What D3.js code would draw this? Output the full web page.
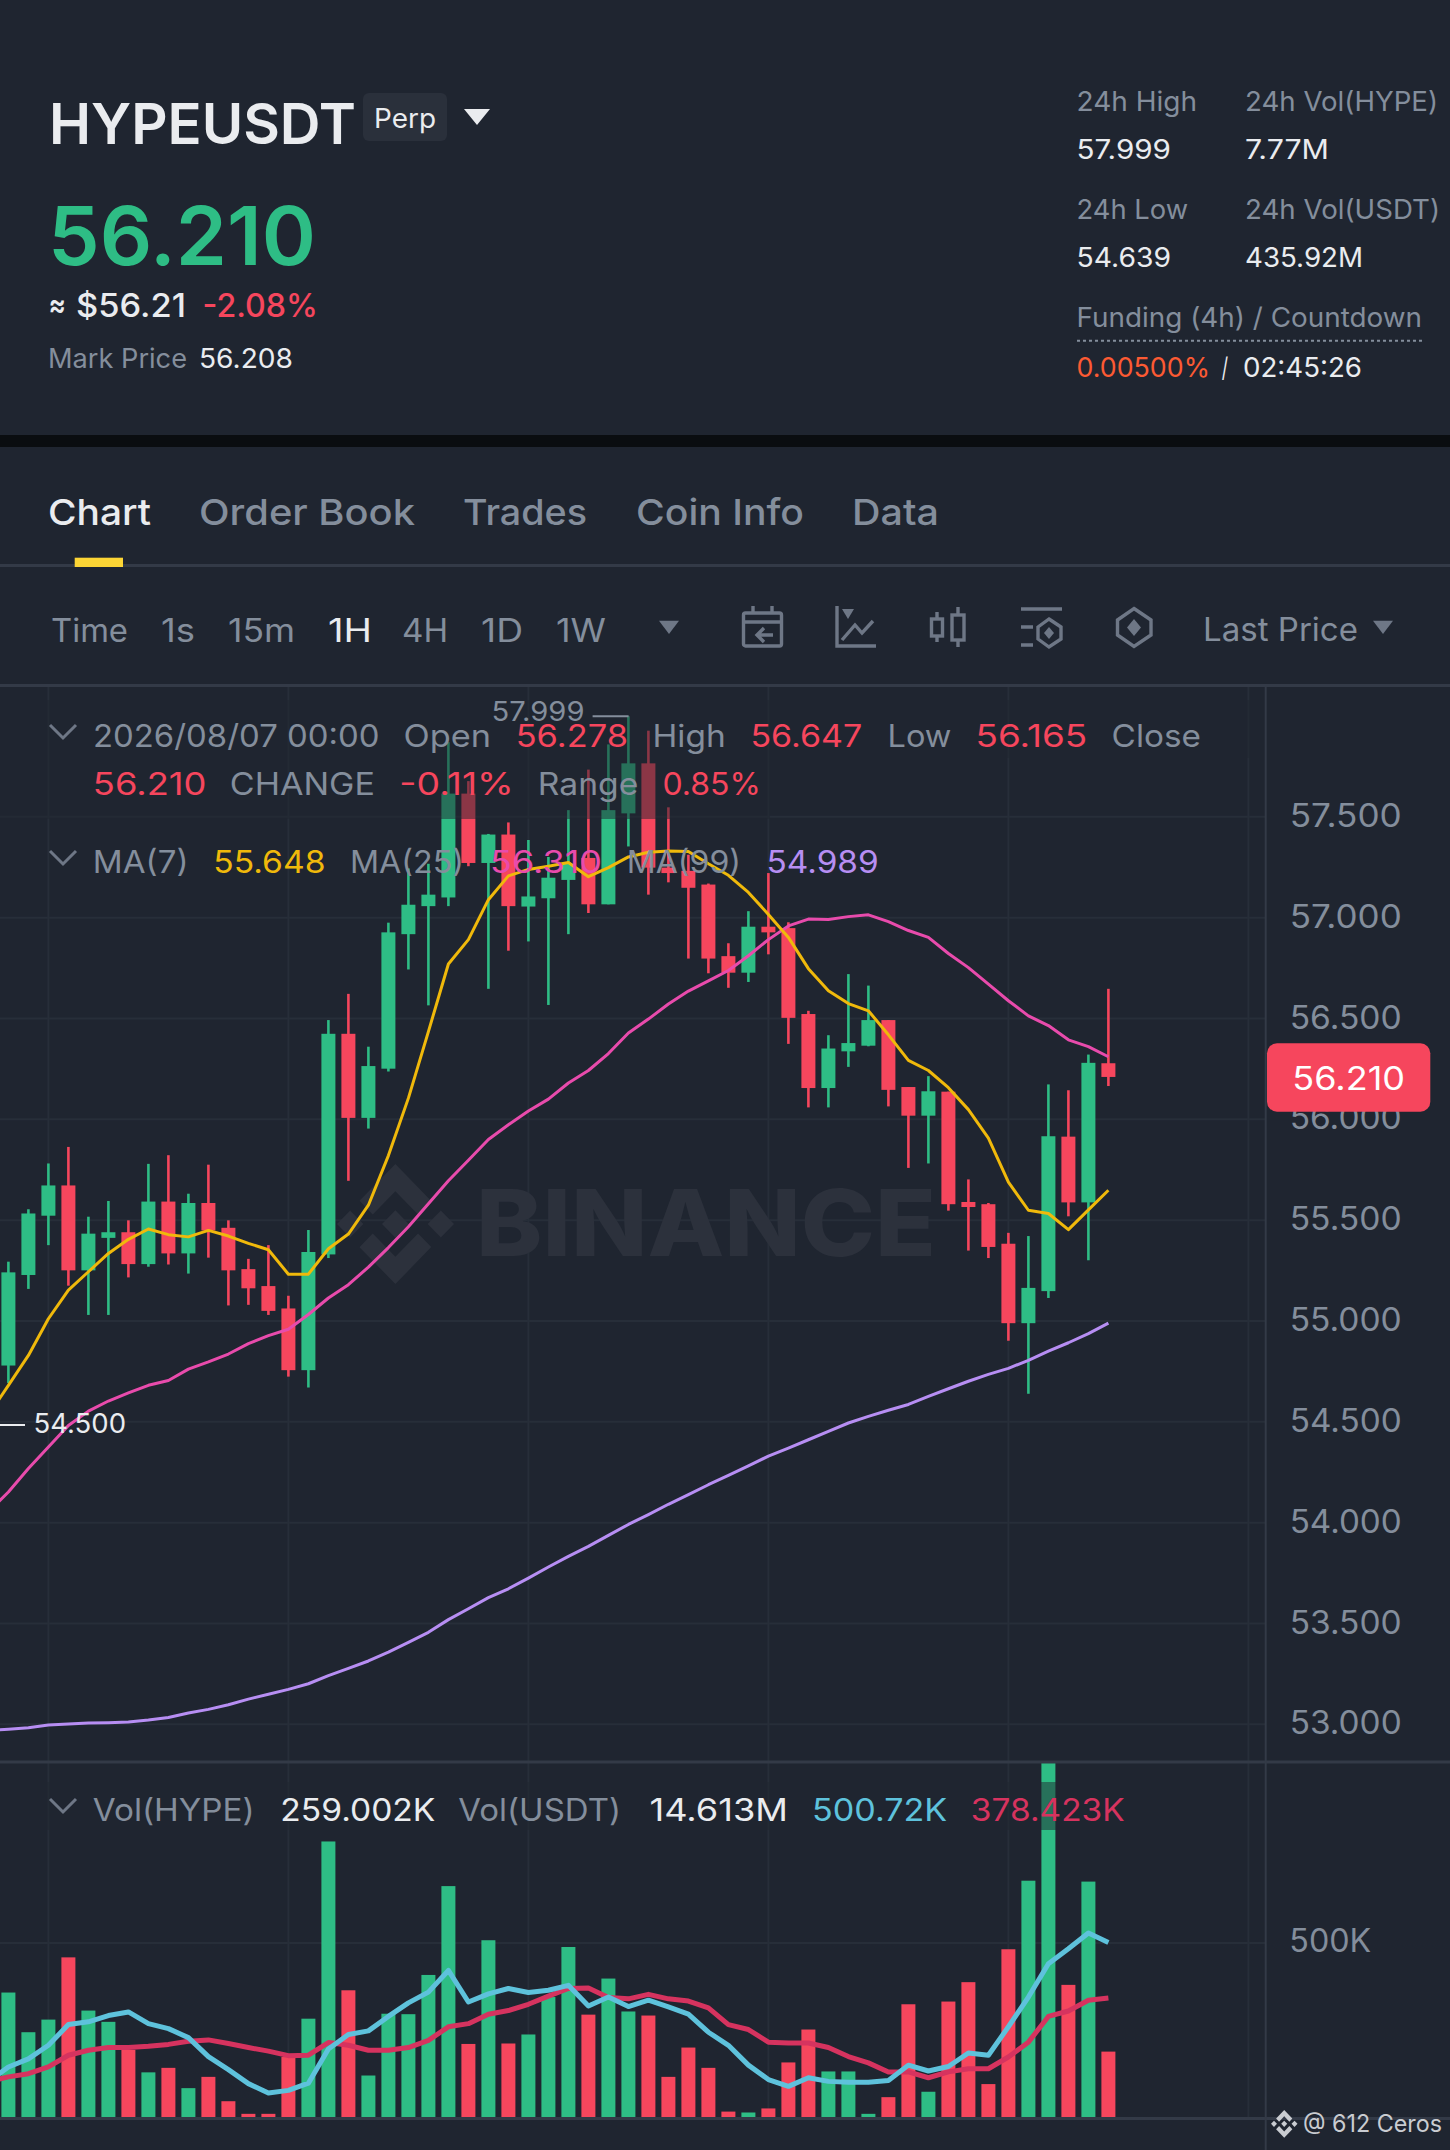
<!DOCTYPE html>
<html lang="en">
<head>
<meta charset="UTF-8">
<title>HYPEUSDT Perp 1H</title>
<script src="https://d3js.org/d3.v7.min.js"></script>
<style>
    html, body { margin: 0; padding: 0; background: #1f2530; }
    svg { display: block; font-family: Inter, Lato, sans-serif; }
    .axis path, .axis line { display: none; }
</style>
</head>
<body>
<div id="chart"></div>
<script>
// candles, one per hour, left to right
const opens = [54.779,55.228,55.522,55.672,55.251,55.412,55.440,55.282,55.592,55.335,55.585,55.462,55.257,55.173,55.062,54.756,55.330,56.424,56.007,56.251,56.918,57.057,57.100,57.615,57.271,57.412,57.055,57.096,57.187,57.296,57.066,57.517,57.765,57.248,57.232,57.164,56.809,56.727,56.955,56.948,56.522,56.155,56.337,56.365,56.492,56.160,56.018,56.137,55.590,55.579,55.383,54.989,55.148,55.914,55.588,56.278];
const highs = [55.294,55.554,55.781,55.863,55.517,55.595,55.499,55.779,55.822,55.631,55.775,55.499,55.308,55.376,55.125,55.451,56.492,56.622,56.360,56.975,57.244,57.267,57.870,57.677,57.415,57.472,57.385,57.301,57.533,57.734,57.859,57.999,57.927,57.547,57.312,57.169,56.873,57.032,57.221,56.977,56.538,56.417,56.720,56.663,56.492,56.160,56.214,56.137,55.702,55.585,55.437,55.421,56.173,56.144,56.321,56.647];
const lows = [54.692,55.159,55.376,55.175,55.030,55.030,55.216,55.269,55.280,55.235,55.314,55.077,55.080,55.030,54.724,54.670,55.312,55.695,55.954,56.237,56.743,56.565,57.057,57.255,56.647,56.836,56.882,56.567,56.918,57.023,57.066,57.353,57.114,57.175,56.797,56.724,56.652,56.681,56.818,56.374,56.059,56.059,56.260,56.362,56.064,55.759,55.781,55.547,55.349,55.312,54.902,54.639,55.114,55.519,55.301,56.165];
const closes = [55.241,55.533,55.672,55.251,55.433,55.440,55.282,55.592,55.335,55.585,55.449,55.251,55.162,55.050,54.756,55.342,56.424,56.007,56.264,56.927,57.064,57.114,57.615,57.271,57.412,57.057,57.105,57.198,57.267,57.066,57.533,57.765,57.248,57.221,57.148,56.797,56.727,56.955,56.927,56.503,56.155,56.351,56.378,56.492,56.146,56.018,56.139,55.579,55.565,55.367,54.989,55.164,55.916,55.588,56.280,56.210];
const volumes = [390,302,330,468,350,325,263,213,223,178,203,149,121,121,247,332,725,395,206,343,342,429,626,276,506,277,297,380,491,341,421,348,339,203,268,223,126,124,133,235,308,215,215,121,158,364,170,370,413,187,486,638,905,407,636,259];

// moving averages start one hour before the first candle
const ma7 = [54.533,54.681,54.829,55.011,55.153,55.244,55.335,55.405,55.456,55.428,55.417,55.449,55.421,55.385,55.353,55.232,55.232,55.358,55.431,55.574,55.820,56.105,56.435,56.770,56.891,57.089,57.207,57.239,57.255,57.273,57.203,57.248,57.301,57.324,57.330,57.328,57.267,57.210,57.125,57.016,56.902,56.747,56.638,56.574,56.538,56.419,56.292,56.242,56.157,56.048,55.907,55.688,55.549,55.533,55.453,55.551,55.648];
const ma25 = [54.052,54.152,54.268,54.375,54.482,54.553,54.603,54.643,54.681,54.705,54.761,54.797,54.836,54.888,54.927,54.959,55.032,55.114,55.180,55.267,55.364,55.467,55.581,55.695,55.797,55.900,55.973,56.041,56.100,56.180,56.242,56.326,56.428,56.497,56.572,56.636,56.686,56.738,56.811,56.891,56.959,56.993,56.991,57.005,57.014,56.980,56.936,56.902,56.822,56.752,56.670,56.588,56.513,56.465,56.394,56.360,56.310];
const ma99 = [52.970,52.976,52.983,52.996,53.001,53.006,53.008,53.011,53.021,53.034,53.056,53.074,53.097,53.125,53.149,53.173,53.201,53.241,53.277,53.314,53.358,53.406,53.456,53.519,53.573,53.628,53.672,53.725,53.780,53.833,53.882,53.937,53.991,54.040,54.091,54.139,54.188,54.234,54.281,54.330,54.370,54.411,54.453,54.494,54.527,54.557,54.586,54.626,54.664,54.701,54.735,54.765,54.805,54.851,54.892,54.937,54.989];
const volMa5 = [192,225,243,273,319,325,339,347,321,310,290,248,219,188,167,173,189,265,297,305,337,367,391,439,369,387,399,390,395,406,360,380,359,373,358,342,302,273,229,197,182,201,193,191,191,195,229,216,226,256,251,314,380,454,487,522,501];
const volMa10 = [192,203,210,225,251,262,268,268,271,275,282,285,277,268,260,250,251,279,273,262,262,268,284,314,321,342,350,364,382,399,400,379,376,386,376,371,356,319,308,280,278,278,268,248,234,214,214,201,214,221,221,247,280,337,349,373,378];

const priceTicks = [53, 53.5, 54, 54.5, 55, 55.5, 56, 56.5, 57, 57.5];
const volTicks = [500];
const timeGridIndex = [2, 14, 26, 38, 50, 62];

const tabs = ["Chart", "Order Book", "Trades", "Coin Info", "Data"];
const intervals = ["Time", "1s", "15m", "1H", "4H", "1D", "1W"];

const GREEN = "#2ebd85", RED = "#f6465d", GREY = "#848e9c", WHITE = "#eaecef", BG = "#1f2530";
const GRID = "#272e39", RULE = "#333a47", ICON = "#6e7786";
const C_MA7 = "#f0b90b", C_MA25 = "#e84bac", C_MA99 = "#b78ef3", C_VMA5 = "#5ec2dc", C_VMA10 = "#d6335f";

const binancePaths = [
    "M38.73 53.2L63.3 28.63L87.89 53.22L102.19 38.92L63.3 0L24.43 38.9Z",
    "M0 63.31L14.3 49L28.6 63.3L14.3 77.6Z",
    "M38.73 73.41L63.3 97.98L87.9 73.4L102.2 87.69L63.3 126.6L24.4 87.7Z",
    "M98.28 63.31L112.58 49L126.88 63.3L112.58 77.6Z",
    "M77.83 63.3L63.3 48.76L48.8 63.26L63.3 77.76Z"
];

const svg = d3.select("#chart").append("svg").attr("width", 1450).attr("height", 2150);
svg.append("rect").attr("width", 1450).attr("height", 2150).attr("fill", BG);

const x = d3.scaleLinear().domain([0, 55]).range([8.4, 1108.4]);
const yPrice = d3.scaleLinear().domain([53, 57.5]).range([1724.3, 816.8]);
const yVol = d3.scaleLinear().domain([114, 899]).range([2117, 1763]);

const defs = svg.append("defs");
defs.append("clipPath").attr("id", "price-clip").append("rect").attr("x", 0).attr("y", 687).attr("width", 1265).attr("height", 1074);
defs.append("clipPath").attr("id", "vol-clip").append("rect").attr("x", 0).attr("y", 1763).attr("width", 1265).attr("height", 354);

// text fitted between two x positions, the app font is not installed
function txt(parent, x0, x1, base, s, size, fill, weight) {
    return parent.append("text")
        .attr("x", x0).attr("y", base)
        .attr("textLength", x1 - x0).attr("lengthAdjust", "spacingAndGlyphs")
        .attr("font-size", size).attr("font-weight", weight || 400)
        .attr("fill", fill).text(s);
}

function tri(parent, x0, x1, y0, y1, fill) {
    parent.append("path").attr("fill", fill)
        .attr("d", `M${x0} ${y0}H${x1}L${(x0 + x1) / 2} ${y1}Z`);
}

function chevron(parent, y) {
    parent.append("path").attr("fill", "none").attr("stroke", ICON).attr("stroke-width", 3)
        .attr("d", `M50 ${y}L63 ${y + 13}L76 ${y}`);
}

function logo(parent, px, py, w, h, fill) {
    parent.append("g").attr("transform", `translate(${px},${py}) scale(${w / 126.88},${h / 126.6})`)
        .selectAll("path").data(binancePaths).join("path").attr("d", d => d).attr("fill", fill);
}

// ---- header
const head = svg.append("g");
txt(head, 49, 356, 144, "HYPEUSDT", 56, "#eaecef", 600);
head.append("rect").attr("x", 363).attr("y", 93).attr("width", 84).attr("height", 48).attr("rx", 6).attr("fill", "#2a303b");
txt(head, 374, 436, 128, "Perp", 27, WHITE);
tri(head, 464, 490, 109, 125, WHITE);
txt(head, 48, 316, 265, "56.210", 81, GREEN, 600);
txt(head, 48.6, 66, 315, "≈", 30, WHITE, 600);
txt(head, 76, 186, 317, "$56.21", 32, WHITE, 500);
txt(head, 202.5, 318, 317, "-2.08%", 32, RED, 500);
txt(head, 48, 187, 368, "Mark Price", 27, GREY);
txt(head, 199, 293, 368, "56.208", 27, WHITE);

txt(head, 1076.5, 1197, 111, "24h High", 27, GREY);
txt(head, 1245, 1438, 111, "24h Vol(HYPE)", 27, GREY);
txt(head, 1076.5, 1171, 158.7, "57.999", 27, WHITE);
txt(head, 1245, 1329, 158.7, "7.77M", 27, WHITE);
txt(head, 1076.5, 1188, 218.7, "24h Low", 27, GREY);
txt(head, 1245, 1440, 218.7, "24h Vol(USDT)", 27, GREY);
txt(head, 1076.5, 1171, 266.7, "54.639", 27, WHITE);
txt(head, 1245, 1363, 266.7, "435.92M", 27, WHITE);
txt(head, 1076.5, 1422, 326.7, "Funding (4h) / Countdown", 27, GREY);
head.append("line").attr("x1", 1077).attr("x2", 1422).attr("y1", 340.7).attr("y2", 340.7)
    .attr("stroke", GREY).attr("stroke-width", 2).attr("stroke-dasharray", "3 3");
txt(head, 1076.5, 1210, 377.3, "0.00500%", 27, "#fc5a33");
txt(head, 1221.7, 1228, 377.3, "/", 27, WHITE);
txt(head, 1243, 1362, 377.3, "02:45:26", 27, WHITE);

head.append("rect").attr("x", 0).attr("y", 435).attr("width", 1450).attr("height", 12).attr("fill", "#0a0d10");

// ---- tabs
const tabX = [[48, 151], [199, 415], [463, 587], [636, 804], [852, 939]];
tabs.forEach((t, i) => txt(head, tabX[i][0], tabX[i][1], 525, t, 36, i === 0 ? WHITE : GREY, 500));
head.append("rect").attr("x", 0).attr("y", 564).attr("width", 1450).attr("height", 3).attr("fill", RULE);
head.append("rect").attr("x", 74.7).attr("y", 557.7).attr("width", 48.3).attr("height", 9.3).attr("fill", "#fcd535");

// ---- toolbar
const intervalX = [[51, 128], [161, 195], [228, 295], [328, 372], [402, 448], [481, 523], [556, 606]];
intervals.forEach((t, i) => txt(head, intervalX[i][0], intervalX[i][1], 641.7, t, 32, t === "1H" ? WHITE : GREY));
tri(head, 659, 679, 620.7, 634, ICON);
txt(head, 1203, 1358, 641, "Last Price", 32, GREY);
tri(head, 1373, 1393, 620.7, 634, ICON);
head.append("rect").attr("x", 0).attr("y", 684).attr("width", 1450).attr("height", 3).attr("fill", RULE);

function icon(px, py) {
    return head.append("g").attr("transform", `translate(${px},${py})`)
        .attr("fill", "none").attr("stroke", ICON).attr("stroke-width", 3.4);
}
const cal = icon(742, 606);
cal.append("rect").attr("x", 1.5).attr("y", 7).attr("width", 38).attr("height", 33).attr("rx", 2);
cal.append("path").attr("d", "M1.5 16H39.5M11 0V7M30 0V7M31 29H15M22 22L15 29L22 36");
const lineIcon = icon(835, 606);
lineIcon.append("path").attr("d", "M2 0V40H41M7 34L20 19L27 27L38 15");
lineIcon.append("path").attr("d", "M7 3H19L13 13Z").attr("fill", ICON).attr("stroke", "none");
const candleIcon = icon(930, 607);
candleIcon.append("rect").attr("x", 1.5).attr("y", 12).attr("width", 11).attr("height", 17);
candleIcon.append("rect").attr("x", 22).attr("y", 8).attr("width", 12).attr("height", 25);
candleIcon.append("path").attr("d", "M7 5V12M7 29V35M28 0V8M28 33V40");
const layerIcon = icon(1021, 607);
layerIcon.append("path").attr("d", "M0 2H41M0 20H12M0 38H12M28 12L40 20V32L28 40L17 32V20Z");
layerIcon.append("path").attr("d", "M28 20L33 26L28 32L23 26Z").attr("fill", ICON).attr("stroke", "none");
const hexIcon = icon(1116, 607);
hexIcon.append("path").attr("d", "M18 1.5L35 13V28L18 39.5L1.5 28V13Z");
hexIcon.append("path").attr("d", "M18 12L25 20.5L18 29L11 20.5Z").attr("fill", ICON).attr("stroke", "none");

// ---- grid
const grid = svg.append("g").attr("stroke", GRID).attr("stroke-width", 2);
grid.selectAll(".h").data(priceTicks).join("line").attr("class", "h")
    .attr("x1", 0).attr("x2", 1265).attr("y1", d => yPrice(d)).attr("y2", d => yPrice(d));
grid.selectAll(".hv").data(volTicks).join("line").attr("class", "hv")
    .attr("x1", 0).attr("x2", 1265).attr("y1", d => yVol(d)).attr("y2", d => yVol(d));
grid.selectAll(".v").data(timeGridIndex).join("line").attr("class", "v")
    .attr("x1", d => x(d)).attr("x2", d => x(d)).attr("y1", 687).attr("y2", 2117);

// ---- watermark
logo(svg, 337, 1164, 117, 120, "#2c313c");
txt(svg, 476, 936, 1256, "BINANCE", 92, "#2c313c", 800);

// ---- volume bars
const candles = opens.map((o, i) => ({ i, o, h: highs[i], l: lows[i], c: closes[i], v: volumes[i], up: closes[i] >= o }));

svg.append("g").attr("clip-path", "url(#vol-clip)")
    .selectAll("rect").data(candles).join("rect")
    .attr("x", d => x(d.i) - 7).attr("width", 14)
    .attr("y", d => yVol(d.v)).attr("height", d => yVol.range()[0] - yVol(d.v))
    .attr("fill", d => d.up ? GREEN : RED);

const volLine = d3.line().x((d, i) => x(i - 1)).y(d => yVol(d));
const volLines = svg.append("g").attr("clip-path", "url(#vol-clip)").attr("fill", "none").attr("stroke-width", 5).attr("stroke-linejoin", "round");
volLines.append("path").datum(volMa10).attr("d", volLine).attr("stroke", C_VMA10);
volLines.append("path").datum(volMa5).attr("d", volLine).attr("stroke", C_VMA5);

// ---- candles
const candleG = svg.append("g").attr("clip-path", "url(#price-clip)");
const oneCandle = candleG.selectAll("g").data(candles).join("g").attr("fill", d => d.up ? GREEN : RED);
oneCandle.append("rect")
    .attr("x", d => x(d.i) - 1.3).attr("width", 2.6)
    .attr("y", d => yPrice(d.h)).attr("height", d => yPrice(d.l) - yPrice(d.h));
oneCandle.append("rect")
    .attr("x", d => x(d.i) - 7).attr("width", 14)
    .attr("y", d => yPrice(Math.max(d.o, d.c)))
    .attr("height", d => Math.max(3, Math.abs(yPrice(d.o) - yPrice(d.c))));

// ---- moving averages
const priceLine = d3.line().x((d, i) => x(i - 1)).y(d => yPrice(d));
const maLines = svg.append("g").attr("clip-path", "url(#price-clip)").attr("fill", "none").attr("stroke-width", 3).attr("stroke-linejoin", "round");
maLines.append("path").datum(ma99).attr("d", priceLine).attr("stroke", C_MA99);
maLines.append("path").datum(ma25).attr("d", priceLine).attr("stroke", C_MA25);
maLines.append("path").datum(ma7).attr("d", priceLine).attr("stroke", C_MA7);

svg.append("line").attr("x1", 0).attr("x2", 25).attr("y1", 1425).attr("y2", 1425).attr("stroke", WHITE).attr("stroke-width", 2);
txt(svg, 33.5, 126, 1433.3, "54.500", 27, WHITE);

// ---- legend, rows 1 and 2 sit on a half transparent backing
svg.append("rect").attr("x", 0).attr("y", 700).attr("width", 1265).attr("height", 58).attr("fill", BG).attr("opacity", 0.5);
svg.append("rect").attr("x", 0).attr("y", 758).attr("width", 770).attr("height", 61).attr("fill", BG).attr("opacity", 0.5);
svg.append("rect").attr("x", 0).attr("y", 1782).attr("width", 1135).attr("height", 48).attr("fill", BG).attr("opacity", 0.5);

// high marker on the visible range
txt(svg, 491.5, 584.5, 721.3, d3.max(highs).toFixed(3), 27, GREY);
svg.append("line").attr("x1", 592.6).attr("x2", 628.6).attr("y1", yPrice(d3.max(highs))).attr("y2", yPrice(d3.max(highs)))
    .attr("stroke", GREY).attr("stroke-width", 2);

const legend = svg.append("g");
chevron(legend, 725);
txt(legend, 93, 379.5, 746.6, "2026/08/07 00:00", 31, GREY);
txt(legend, 403.5, 491, 746.6, "Open", 31, GREY);
txt(legend, 515.7, 628, 746.6, "56.278", 31, RED);
txt(legend, 652.5, 725.7, 746.6, "High", 31, GREY);
txt(legend, 750.4, 862.3, 746.6, "56.647", 31, RED);
txt(legend, 887.5, 951.4, 746.6, "Low", 31, GREY);
txt(legend, 975.5, 1087.3, 746.6, "56.165", 31, RED);
txt(legend, 1111.6, 1201, 746.6, "Close", 31, GREY);
txt(legend, 92.8, 206.5, 795, "56.210", 31, RED);
txt(legend, 229.8, 374.9, 795, "CHANGE", 31, GREY);
txt(legend, 399.3, 513.8, 795, "-0.11%", 31, RED);
txt(legend, 537.8, 638.4, 795, "Range", 31, GREY);
txt(legend, 662.4, 760.9, 795, "0.85%", 31, RED);

chevron(legend, 851);
txt(legend, 92.8, 188.5, 872.5, "MA(7)", 31, GREY);
txt(legend, 213.3, 325.5, 872.5, "55.648", 31, C_MA7);
txt(legend, 350, 464, 872.5, "MA(25)", 31, GREY);
txt(legend, 490, 602, 872.5, "56.310", 31, C_MA25);
txt(legend, 626.8, 741, 872.5, "MA(99)", 31, GREY);
txt(legend, 766.5, 878.7, 872.5, "54.989", 31, C_MA99);

chevron(legend, 1799);
txt(legend, 92.8, 254.7, 1820.5, "Vol(HYPE)", 31, GREY);
txt(legend, 280.3, 435.4, 1820.5, "259.002K", 31, WHITE);
txt(legend, 458.2, 621, 1820.5, "Vol(USDT)", 31, GREY);
txt(legend, 649.5, 788, 1820.5, "14.613M", 31, WHITE);
txt(legend, 812, 947.3, 1820.5, "500.72K", 31, C_VMA5);
txt(legend, 970.8, 1124.8, 1820.5, "378.423K", 31, C_VMA10);

// ---- panes and axes
svg.append("rect").attr("x", 0).attr("y", 1760.5).attr("width", 1450).attr("height", 3).attr("fill", RULE);
svg.append("rect").attr("x", 0).attr("y", 2117).attr("width", 1450).attr("height", 3).attr("fill", RULE);
svg.append("rect").attr("x", 1264.7).attr("y", 687).attr("width", 2).attr("height", 1463).attr("fill", RULE);

const priceAxis = svg.append("g").attr("class", "axis").attr("transform", "translate(1265,0)")
    .call(d3.axisRight(yPrice).tickValues(priceTicks).tickFormat(d3.format(".3f")).tickSize(0).tickPadding(24.7));
priceAxis.selectAll("text").attr("font-size", 32).attr("fill", GREY).attr("font-family", "Inter")
    .attr("dy", "0.30em").attr("textLength", 112).attr("lengthAdjust", "spacingAndGlyphs");

const volAxis = svg.append("g").attr("class", "axis").attr("transform", "translate(1265,0)")
    .call(d3.axisRight(yVol).tickValues(volTicks).tickFormat(d => d + "K").tickSize(0).tickPadding(24.3));
volAxis.selectAll("text").attr("font-size", 32).attr("fill", GREY).attr("font-family", "Inter")
    .attr("dy", "0.28em").attr("textLength", 82).attr("lengthAdjust", "spacingAndGlyphs");

// last price tag
svg.append("rect").attr("x", 1267).attr("y", 1043.3).attr("width", 163.3).attr("height", 68.4).attr("rx", 10).attr("fill", RED);
txt(svg, 1292.3, 1405, 1089.8, closes[closes.length - 1].toFixed(3), 32, "#ffffff");

// footer
logo(svg, 1271, 2110, 26.5, 27.7, "#c9ccd1");
txt(svg, 1303, 1442, 2131.7, "@ 612 Ceros", 24, "#c9ccd1");
</script>
</body>
</html>
